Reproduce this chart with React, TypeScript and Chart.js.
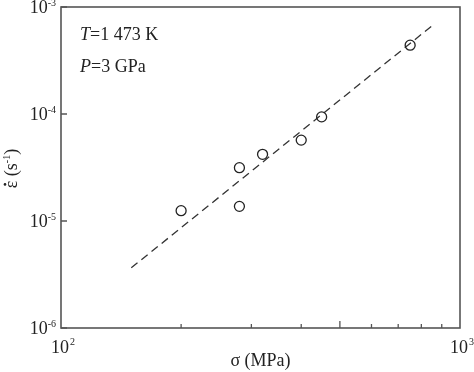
import React, { useEffect, useRef } from 'react';
import { Chart, registerables } from 'chart.js';

Chart.register(...registerables);

// Measured points: stress σ (MPa) vs. strain rate ε̇ (s^-1)
const stress = [200, 280, 280, 320, 400, 450, 750];
const strainRate = [1.25e-5, 3.15e-5, 1.37e-5, 4.2e-5, 5.7e-5, 9.4e-5, 4.4e-4];

// Dashed power-law fit line end points
const fitStress = [150, 850];
const fitRate = [3.65e-6, 6.65e-4];

// Axis ticks
const xDecades = [100, 1000];
const xDecadeExponents = ['2', '3'];
const xMinorTicks = [200, 300, 400, 600, 700, 800, 900];
const xMidTicks = [500];
const yDecades = [1e-6, 1e-5, 1e-4, 1e-3];
const yDecadeExponents = ['-6', '-5', '-4', '-3'];

// Annotation lines: [italic symbol, rest]
const annotationLines = [
  ['T', '=1 473 K'],
  ['P', '=3 GPa'],
];

const xTitle = 'σ (MPa)';

const SERIF = '"Liberation Serif", "Times New Roman", serif';

const decorPlugin = {
  id: 'decor',
  afterDraw(chart: any) {
    const ctx = chart.ctx as CanvasRenderingContext2D;
    const { left, right, top, bottom } = chart.chartArea;
    const xs = chart.scales.x;
    const ys = chart.scales.y;
    ctx.save();

    // frame
    ctx.strokeStyle = '#555';
    ctx.lineWidth = 1.6;
    ctx.strokeRect(left, top, right - left, bottom - top);

    // ticks (inward)
    ctx.lineWidth = 1.3;
    ctx.beginPath();
    yDecades.forEach((v) => {
      const y = ys.getPixelForValue(v);
      ctx.moveTo(left, y);
      ctx.lineTo(left + 6, y);
    });
    xMinorTicks.forEach((v) => {
      const x = xs.getPixelForValue(v);
      ctx.moveTo(x, bottom);
      ctx.lineTo(x, bottom - 4);
    });
    xMidTicks.forEach((v) => {
      const x = xs.getPixelForValue(v);
      ctx.moveTo(x, bottom);
      ctx.lineTo(x, bottom - 7);
    });
    ctx.stroke();

    ctx.fillStyle = '#222';
    ctx.textBaseline = 'alphabetic';
    const big = `18px ${SERIF}`;
    const small = `10px ${SERIF}`;

    // y tick labels
    yDecades.forEach((v, i) => {
      const y = ys.getPixelForValue(v);
      ctx.font = small;
      const we = ctx.measureText(yDecadeExponents[i]).width;
      ctx.font = big;
      const wb = ctx.measureText('10').width;
      const xEnd = left - 5;
      ctx.textAlign = 'left';
      ctx.fillText('10', xEnd - we - wb, y + 6);
      ctx.font = small;
      ctx.fillText(yDecadeExponents[i], xEnd - we, y - 1);
    });

    // x tick labels
    xDecades.forEach((v, i) => {
      const x = xs.getPixelForValue(v);
      ctx.font = big;
      const wb = ctx.measureText('10').width;
      ctx.textAlign = 'left';
      ctx.fillText('10', x - wb / 2 - 1, bottom + 25);
      ctx.font = small;
      ctx.fillText(xDecadeExponents[i], x + wb / 2, bottom + 17);
    });

    // x title
    ctx.font = big;
    ctx.textAlign = 'center';
    ctx.fillText(xTitle, (left + right) / 2, bottom + 38);

    // y title (rotated): ε with dot, then (s^-1)
    ctx.save();
    ctx.translate(17, (top + bottom) / 2 + 1);
    ctx.rotate(-Math.PI / 2);
    ctx.font = big;
    const p0 = 'ε';
    const p1 = ' (s';
    const p2 = '-1';
    const p3 = ')';
    const w0 = ctx.measureText(p0).width;
    const w1 = ctx.measureText(p1).width;
    const w3 = ctx.measureText(p3).width;
    ctx.font = small;
    const w2 = ctx.measureText(p2).width;
    let cx = -(w0 + w1 + w2 + w3) / 2;
    ctx.textAlign = 'left';
    ctx.font = big;
    ctx.fillText(p0, cx, 0);
    ctx.beginPath();
    ctx.arc(cx + w0 / 2, -12, 1.3, 0, Math.PI * 2);
    ctx.fill();
    cx += w0;
    ctx.fillText(p1, cx, 0);
    cx += w1;
    ctx.font = small;
    ctx.fillText(p2, cx, -7);
    cx += w2;
    ctx.font = big;
    ctx.fillText(p3, cx, 0);
    ctx.restore();

    // annotations
    ctx.textAlign = 'left';
    annotationLines.forEach((ln, i) => {
      const bx = left + 19;
      const by = top + 33 + i * 32;
      ctx.font = `italic 18px ${SERIF}`;
      ctx.fillText(ln[0], bx, by);
      const w = ctx.measureText(ln[0]).width;
      ctx.font = big;
      ctx.fillText(ln[1], bx + w, by);
    });

    ctx.restore();
  },
};

export default function App() {
  const ref = useRef<HTMLCanvasElement | null>(null);

  useEffect(() => {
    if (!ref.current) return;
    const chart = new Chart(ref.current, {
      type: 'scatter',
      data: {
        datasets: [
          {
            label: 'data',
            data: stress.map((s, i) => ({ x: s, y: strainRate[i] })),
            pointStyle: 'circle',
            pointRadius: 5,
            pointBorderWidth: 1.3,
            pointBorderColor: '#222',
            pointBackgroundColor: 'rgba(255,255,255,0)',
            showLine: false,
          },
          {
            label: 'fit',
            data: fitStress.map((s, i) => ({ x: s, y: fitRate[i] })),
            showLine: true,
            borderColor: '#333',
            borderWidth: 1.3,
            borderDash: [8, 5],
            pointRadius: 0,
            fill: false,
          },
        ],
      },
      options: {
        animation: false,
        responsive: false,
        layout: { padding: { left: 61, right: 14, top: 7, bottom: 44 } },
        plugins: {
          legend: { display: false },
          tooltip: { enabled: false },
        },
        scales: {
          x: {
            type: 'logarithmic',
            min: 100,
            max: 1000,
            grid: { display: false, drawTicks: false },
            border: { display: false },
            ticks: { display: false },
          },
          y: {
            type: 'logarithmic',
            min: 1e-6,
            max: 1e-3,
            grid: { display: false, drawTicks: false },
            border: { display: false },
            ticks: { display: false },
          },
        },
      },
      plugins: [decorPlugin],
    });
    return () => chart.destroy();
  }, []);

  return (
    <div style={{ position: 'fixed', left: 0, top: 0, width: 474, height: 372, background: '#fff' }}>
      <canvas ref={ref} width={474} height={372} style={{ display: 'block' }} />
    </div>
  );
}
